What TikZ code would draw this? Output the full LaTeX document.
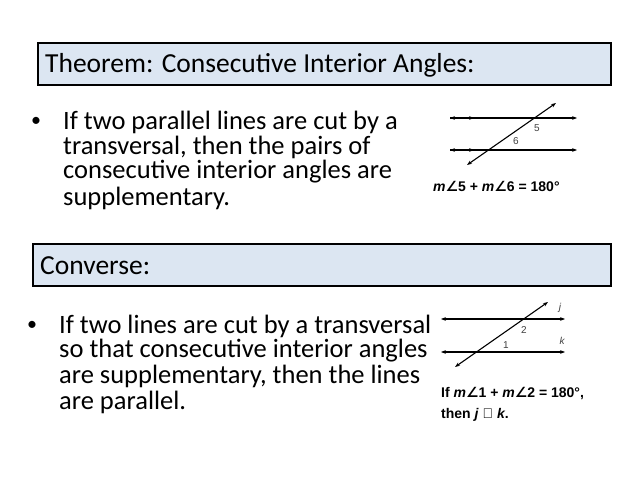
\documentclass[tikz,border=0pt]{standalone}
\usepackage{fontspec}
\setmainfont{Carlito}
\newfontfamily\hv{Liberation Sans}
\newfontfamily\dv{DejaVu Sans}
\newcommand{\ang}{{\dv\bfseries ∠}}
\usetikzlibrary{arrows.meta}
\begin{document}
\begin{tikzpicture}[x=1pt,y=-1pt,
  titlebox/.style={draw=black,line width=1.2pt,fill={rgb,255:red,220;green,230;blue,242}},
  body/.style={anchor=west,font=\fontsize{26.5}{30}\selectfont,inner sep=0pt},
  bul/.style={anchor=west,font=\fontsize{20}{24}\selectfont,inner sep=0pt},
  fig/.style={line width=1.1pt,{Stealth[length=5pt]}-{Stealth[length=5pt]}},
  lab/.style={font=\hv\fontsize{10}{12}\selectfont,text=black!75,inner sep=0pt},
  eq/.style={font=\hv\bfseries\fontsize{14}{16}\selectfont,inner sep=0pt,anchor=west}]
\useasboundingbox (0,0) rectangle (638,478);
\fill[white] (0,0) rectangle (638,478);
\draw[titlebox] (38,43) rectangle (611,85);
\node[body,font=\fontsize{27.5}{30}\selectfont] (t1) at (45,65) {Theorem: Consecutive Interior Angles:};
\node[bul] (b1) at (31,122) {•};
\node[body] (l1) at (63,122) {If two parallel lines are cut by a};
\node[body] (l2) at (63,147) {transversal, then the pairs of};
\node[body] (l3) at (63,172) {consecutive interior angles are};
\node[body] (l4) at (63,198) {supplementary.};
% figure 1
\coordinate (a1) at (450,118); \coordinate (a2) at (577,118);
\coordinate (c1) at (450,150); \coordinate (c2) at (577,150);
\draw[fig] (a1) -- (a2);
\draw[fig] (c1) -- (c2);
\draw[line width=1.1pt,-{Stealth[length=5pt]}] (a1) -- (474,118);
\draw[line width=1.1pt,-{Stealth[length=5pt]}] (c1) -- (474,150);
\coordinate (s1) at (467,165); \coordinate (s2) at (556,103);
\draw[fig] (s1) -- (s2);
\node[lab] (n5) at (537,128) {5};
\node[lab] (n6) at (516,141) {6};
\node[eq] (e1) at (433,186) {\textit{m}\ang5 + \textit{m}\ang6 = 180°};
% converse
\draw[titlebox] (33,244) rectangle (611,286);
\node[body,font=\fontsize{27.5}{30}\selectfont] (t2) at (40,266) {Converse:};
\node[bul] (b2) at (27,326) {•};
\node[body] (m1) at (59,326) {If two lines are cut by a transversal};
\node[body] (m2) at (59,351) {so that consecutive interior angles};
\node[body] (m3) at (59,376) {are supplementary, then the lines};
\node[body] (m4) at (59,402) {are parallel.};
% figure 2
\coordinate (j1) at (441,319); \coordinate (j2) at (565,319);
\coordinate (k1) at (441,352); \coordinate (k2) at (565,352);
\draw[fig] (j1) -- (j2);
\draw[fig] (k1) -- (k2);
\coordinate (u1) at (455,367); \coordinate (u2) at (548,302);
\draw[fig] (u1) -- (u2);
\node[lab,font=\hv\itshape\fontsize{10}{12}\selectfont] (nj) at (560,308) {j};
\node[lab,font=\hv\itshape\fontsize{10}{12}\selectfont] (nk) at (562,341) {k};
\node[lab] (n2) at (524,330) {2};
\node[lab] (n1) at (506,345) {1};
\node[eq] (e2) at (441,393) {If \textit{m}\ang1 + \textit{m}\ang2 = 180°,};
\node[eq] (e3) at (441,415) {then \textit{j} ∥ \textit{k}.};
\end{tikzpicture}
\end{document}
